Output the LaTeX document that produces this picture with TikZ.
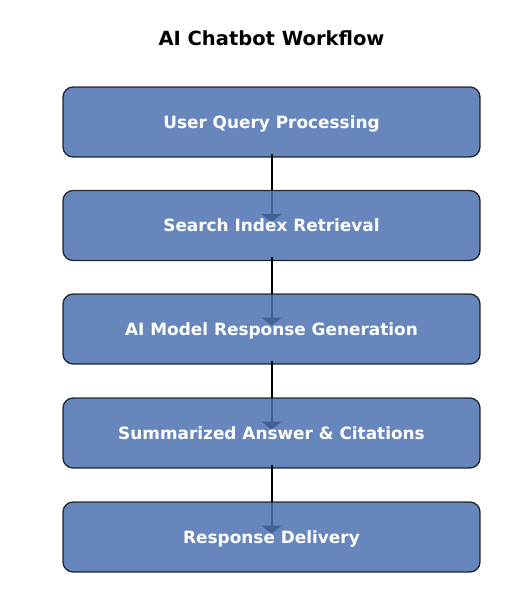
\documentclass[tikz,border=0pt]{standalone}
\usepackage{fontspec}
\setmainfont{DejaVu Sans}
\usetikzlibrary{arrows.meta}
\definecolor{boxfill}{HTML}{4C72B0}
\tikzset{
  stage/.style={draw=black, draw opacity=0.8, fill=boxfill, fill opacity=0.85, text opacity=1,
    rounded corners=10pt, line width=1.3pt, minimum width=417pt, minimum height=70pt,
    inner sep=0pt, text height=12.3pt, text depth=0pt, text=white,
    font=\fontsize{16.9}{20}\selectfont\bfseries},
  flow/.style={line width=2pt, black, -{Triangle[width=20pt,length=8pt]}}
}
\begin{document}
\begin{tikzpicture}[x=1pt,y=1pt]
\useasboundingbox (0,0) rectangle (529,-600);
\node[font=\fontsize{19.5}{23}\selectfont\bfseries] (title) at (271.5,-38.5) {AI Chatbot Workflow};
\coordinate (t2) at (271.5,-222);
\coordinate (t3) at (271.5,-325.5);
\coordinate (t4) at (271.5,-429.5);
\coordinate (t5) at (271.5,-533.5);
\node[stage] (s1) at (271.5,-122) {User Query Processing};
\draw[flow] ([yshift=4pt]s1.south) -- (t2);
\node[stage] (s2) at (271.5,-225.5) {Search Index Retrieval};
\draw[flow] ([yshift=4pt]s2.south) -- (t3);
\node[stage] (s3) at (271.5,-329) {AI Model Response Generation};
\draw[flow] ([yshift=4pt]s3.south) -- (t4);
\node[stage] (s4) at (271.5,-433) {Summarized Answer \& Citations};
\draw[flow] ([yshift=4pt]s4.south) -- (t5);
\node[stage] (s5) at (271.5,-537) {Response Delivery};
\end{tikzpicture}
\end{document}
